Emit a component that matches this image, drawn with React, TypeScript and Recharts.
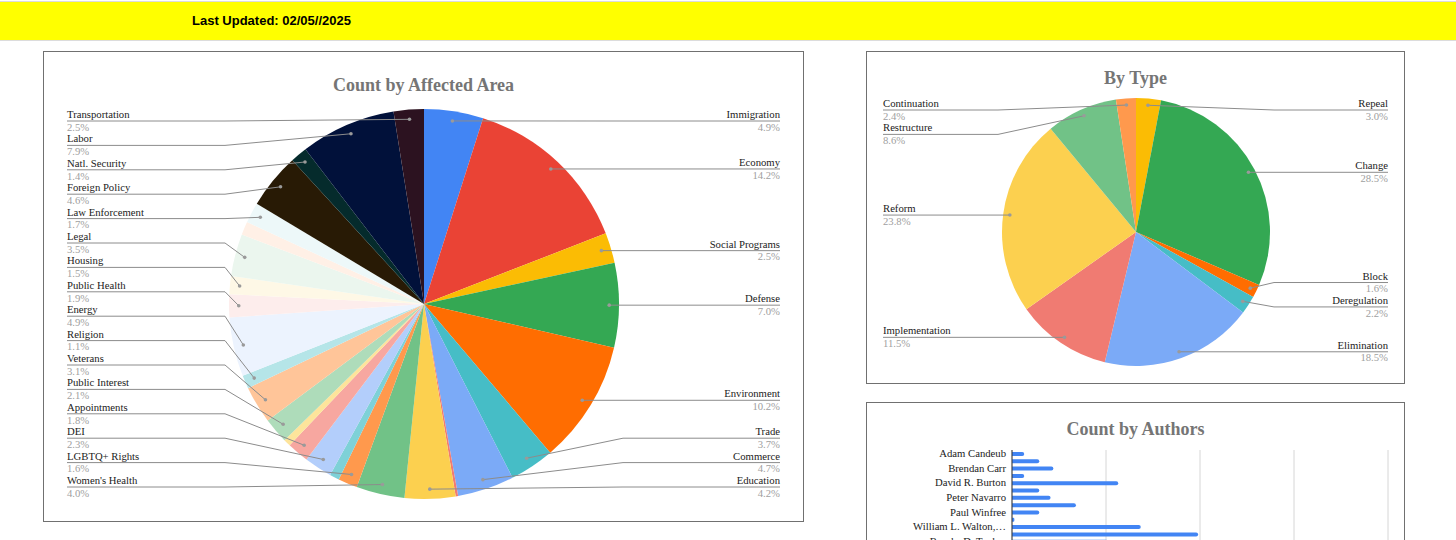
import { PieChart, Pie, Cell, BarChart, Bar, XAxis, YAxis, CartesianGrid } from 'recharts';

// Count by Affected Area (percent of total), clockwise from 12 o'clock
const areaNames = [
  'Immigration', 'Economy', 'Social Programs', 'Defense', 'Environment', 'Trade', 'Commerce', '',
  'Education', "Women's Health", 'LGBTQ+ Rights', '', 'DEI', 'Appointments', '', 'Public Interest',
  'Veterans', 'Religion', 'Energy', 'Public Health', 'Housing', 'Legal', '', 'Law Enforcement',
  'Foreign Policy', 'Natl. Security', 'Labor', 'Transportation',
];
const areaValues = [
  4.9, 14.2, 2.5, 7.0, 10.2, 3.7, 4.7, 0.2,
  4.2, 4.0, 1.6, 0.8, 2.3, 1.8, 0.6, 2.1,
  3.1, 1.1, 4.9, 1.9, 1.5, 3.5, 1.1, 1.7,
  4.6, 1.4, 7.9, 2.5,
];
const areaColors = [
  '#4285F4', '#EA4335', '#FBBC04', '#34A853', '#FF6D01', '#46BDC6', '#7BAAF7', '#F07B72',
  '#FCD04F', '#71C287', '#FF994D', '#7ED1D7', '#B3CEFB', '#F7A7A0', '#FDE49B', '#AEDCBA',
  '#FFC599', '#B5E5E8', '#ECF3FE', '#FDEDEC', '#FEF8E6', '#EBF6EE', '#FFF0E6', '#EDF8F9',
  '#281A05', '#052B2C', '#01113A', '#2C1220',
];

// By Type
const typeNames = ['Repeal', 'Change', 'Block', 'Deregulation', 'Elimination', 'Implementation', 'Reform', 'Restructure', 'Continuation'];
const typeValues = [3.0, 28.5, 1.6, 2.2, 18.5, 11.5, 23.8, 8.6, 2.4];
const typeColors = ['#FBBC04', '#34A853', '#FF6D01', '#46BDC6', '#7BAAF7', '#F07B72', '#FCD04F', '#71C287', '#FF994D'];

// Count by Authors (only every other name is shown on the axis)
const authorNames = [
  'Adam Candeub', '', 'Brendan Carr', '', 'David R. Burton', '', 'Peter Navarro', '',
  'Paul Winfree', '', 'William L. Walton,…', '', 'Brooks D. Tucker',
];
const authorCounts = [1.3, 2.9, 4.4, 1.3, 11.3, 2.9, 4.1, 6.8, 2.9, 0.25, 13.7, 19.8, 10.2];
const authorTicks = [0, 10, 20, 30, 40];

const serif = "'Liberation Serif', 'Times New Roman', serif";
const LABEL_GAP = 24.4;
const noMargin = { top: 0, right: 0, bottom: 0, left: 0 };

type Spot = { px: number; py: number; want: number; y: number; side: 'left' | 'right' };

// google-sheets style label placement: dots inside slices, labels stacked per side
function layoutLabels(values: number[], names: string[], cx: number, cy: number, r: number) {
  const total = values.reduce((a, b) => a + b, 0);
  const spots: Record<number, Spot> = {};
  const sides: Record<string, number[]> = { left: [], right: [] };
  let acc = 0;
  values.forEach((v, i) => {
    const mid = ((90 - ((acc + v / 2) / total) * 360) * Math.PI) / 180;
    acc += v;
    if (!names[i]) return;
    const px = cx + 0.95 * r * Math.cos(mid);
    const py = cy - 0.95 * r * Math.sin(mid);
    const side = Math.cos(mid) >= 0 ? 'right' : 'left';
    spots[i] = { px, py, want: py, y: py, side };
    sides[side].push(i);
  });
  const minY = cy - r + 12;
  const maxY = cy + r - 12;
  Object.values(sides).forEach((ids) => {
    ids.sort((a, b) => spots[a].want - spots[b].want);
    let clusters = ids.map((id) => ({ ids: [id], top: 0 }));
    const place = (c: { ids: number[]; top: number }) => {
      const n = c.ids.length;
      const mean = c.ids.reduce((s, id) => s + spots[id].want, 0) / n;
      c.top = Math.min(Math.max(mean - ((n - 1) * LABEL_GAP) / 2, minY), maxY - (n - 1) * LABEL_GAP);
    };
    clusters.forEach(place);
    let merged = true;
    while (merged) {
      merged = false;
      for (let k = 1; k < clusters.length; k++) {
        const a = clusters[k - 1];
        const b = clusters[k];
        if (a.top + a.ids.length * LABEL_GAP > b.top + 0.01) {
          const c = { ids: [...a.ids, ...b.ids], top: 0 };
          place(c);
          clusters = [...clusters.slice(0, k - 1), c, ...clusters.slice(k + 1)];
          merged = true;
          break;
        }
      }
    }
    clusters.forEach((c) => c.ids.forEach((id, j) => (spots[id].y = c.top + j * LABEL_GAP)));
  });
  return spots;
}

const makeLabel = (
  names: string[], values: number[], cx: number, cy: number, r: number, leftX: number, rightX: number,
) => {
  const spots = layoutLabels(values, names, cx, cy, r);
  const total = values.reduce((a, b) => a + b, 0);
  return (props: any) => {
    const i = props.index;
    const s = spots[i];
    if (!s) return null;
    const left = s.side === 'left';
    const tx = left ? leftX : rightX;
    const elbow = left ? cx - r - 4 : cx + r + 4;
    const anchor = left ? 'start' : 'end';
    return (
      <g>
        <polyline
          points={`${tx},${s.y} ${elbow},${s.y} ${s.px},${s.py}`}
          fill="none"
          stroke="#8c8c8c"
          strokeWidth={1}
        />
        <circle cx={s.px} cy={s.py} r={1.8} fill="#9a9a9a" />
        <text x={tx} y={s.y - 3} textAnchor={anchor} fontFamily={serif} fontSize={10.7} fill="#222">
          {names[i]}
        </text>
        <text x={tx} y={s.y + 9.7} textAnchor={anchor} fontFamily={serif} fontSize={10.7} fill="#a0a0a0">
          {((values[i] / total) * 100).toFixed(1)}%
        </text>
      </g>
    );
  };
};

const boxStyle = (left: number, top: number, width: number, height: number): React.CSSProperties => ({
  position: 'absolute',
  left,
  top,
  width,
  height,
  border: '1px solid #707070',
  boxSizing: 'border-box',
  background: '#fff',
});

const titleStyle = (top: number): React.CSSProperties => ({
  position: 'absolute',
  left: 0,
  right: 0,
  top,
  textAlign: 'center',
  fontFamily: serif,
  fontWeight: 'bold',
  fontSize: 18,
  lineHeight: '18px',
  color: '#757575',
});

export default function App() {
  const areaData = areaNames.map((name, i) => ({ name, value: areaValues[i] }));
  const typeData = typeNames.map((name, i) => ({ name, value: typeValues[i] }));
  const authorData = authorNames.map((name, i) => ({ slot: i, name, count: authorCounts[i] }));

  return (
    <div style={{ position: 'absolute', left: 0, top: 0, width: 1456, height: 540, overflow: 'hidden', background: '#fff' }}>
      <div
        style={{
          position: 'absolute', left: 0, top: 1, width: 1456, height: 40, background: '#FFFF00',
          borderTop: '1px solid #dcdcdc', borderBottom: '1px solid #dcdcdc', boxSizing: 'border-box',
        }}
      >
        <div
          style={{
            position: 'absolute', left: 192, top: 11, fontFamily: "'Liberation Sans', Arial, sans-serif",
            fontWeight: 'bold', fontSize: 13, lineHeight: '16px', color: '#000',
          }}
        >
          Last Updated: 02/05//2025
        </div>
      </div>

      {/* Count by Affected Area */}
      <div style={boxStyle(43, 51, 761, 471)}>
        <div style={titleStyle(24)}>Count by Affected Area</div>
      </div>
      <div style={{ position: 'absolute', left: 43, top: 51 }}>
        <PieChart width={761} height={471} margin={noMargin}>
          <Pie
            data={areaData}
            dataKey="value"
            nameKey="name"
            cx={381}
            cy={253}
            outerRadius={195}
            startAngle={90}
            endAngle={-270}
            stroke="none"
            labelLine={false}
            label={makeLabel(areaNames, areaValues, 381, 253, 195, 24, 737)}
            isAnimationActive={false}
          >
            {areaData.map((_, i) => (
              <Cell key={`area-${i}`} fill={areaColors[i]} stroke="none" />
            ))}
          </Pie>
        </PieChart>
      </div>

      {/* By Type */}
      <div style={boxStyle(866, 51, 539, 333)}>
        <div style={titleStyle(17)}>By Type</div>
      </div>
      <div style={{ position: 'absolute', left: 866, top: 51 }}>
        <PieChart width={539} height={333} margin={noMargin}>
          <Pie
            data={typeData}
            dataKey="value"
            nameKey="name"
            cx={270}
            cy={181}
            outerRadius={134}
            startAngle={90}
            endAngle={-270}
            stroke="none"
            labelLine={false}
            label={makeLabel(typeNames, typeValues, 270, 181, 134, 17, 522)}
            isAnimationActive={false}
          >
            {typeData.map((_, i) => (
              <Cell key={`type-${i}`} fill={typeColors[i]} stroke="none" />
            ))}
          </Pie>
        </PieChart>
      </div>

      {/* Count by Authors */}
      <div style={boxStyle(866, 402, 539, 170)}>
        <div style={titleStyle(17)}>Count by Authors</div>
      </div>
      <div style={{ position: 'absolute', left: 866, top: 402 }}>
        <BarChart
          width={539}
          height={143}
          layout="vertical"
          data={authorData}
          margin={{ top: 48, right: 17, bottom: 0, left: 0 }}
        >
          <CartesianGrid horizontal={false} stroke="#d6d6d6" />
          <XAxis
            type="number"
            domain={[0, 40]}
            ticks={authorTicks}
            interval={0}
            height={0}
            tick={{ fontSize: 0 }}
            axisLine={false}
            tickLine={false}
          />
          <YAxis
            type="category"
            dataKey="slot"
            width={146}
            interval={0}
            tickLine={false}
            tickMargin={0}
            axisLine={{ stroke: '#333' }}
            tick={(p: any) => (
              <text x={p.x} y={p.y} dy={3.6} textAnchor="end" fontFamily={serif} fontSize={10.7} fill="#222">
                {authorNames[p.payload.value]}
              </text>
            )}
          />
          <Bar dataKey="count" fill="#4285F4" barSize={4} radius={[0, 2, 2, 0]} isAnimationActive={false} />
        </BarChart>
      </div>
    </div>
  );
}
